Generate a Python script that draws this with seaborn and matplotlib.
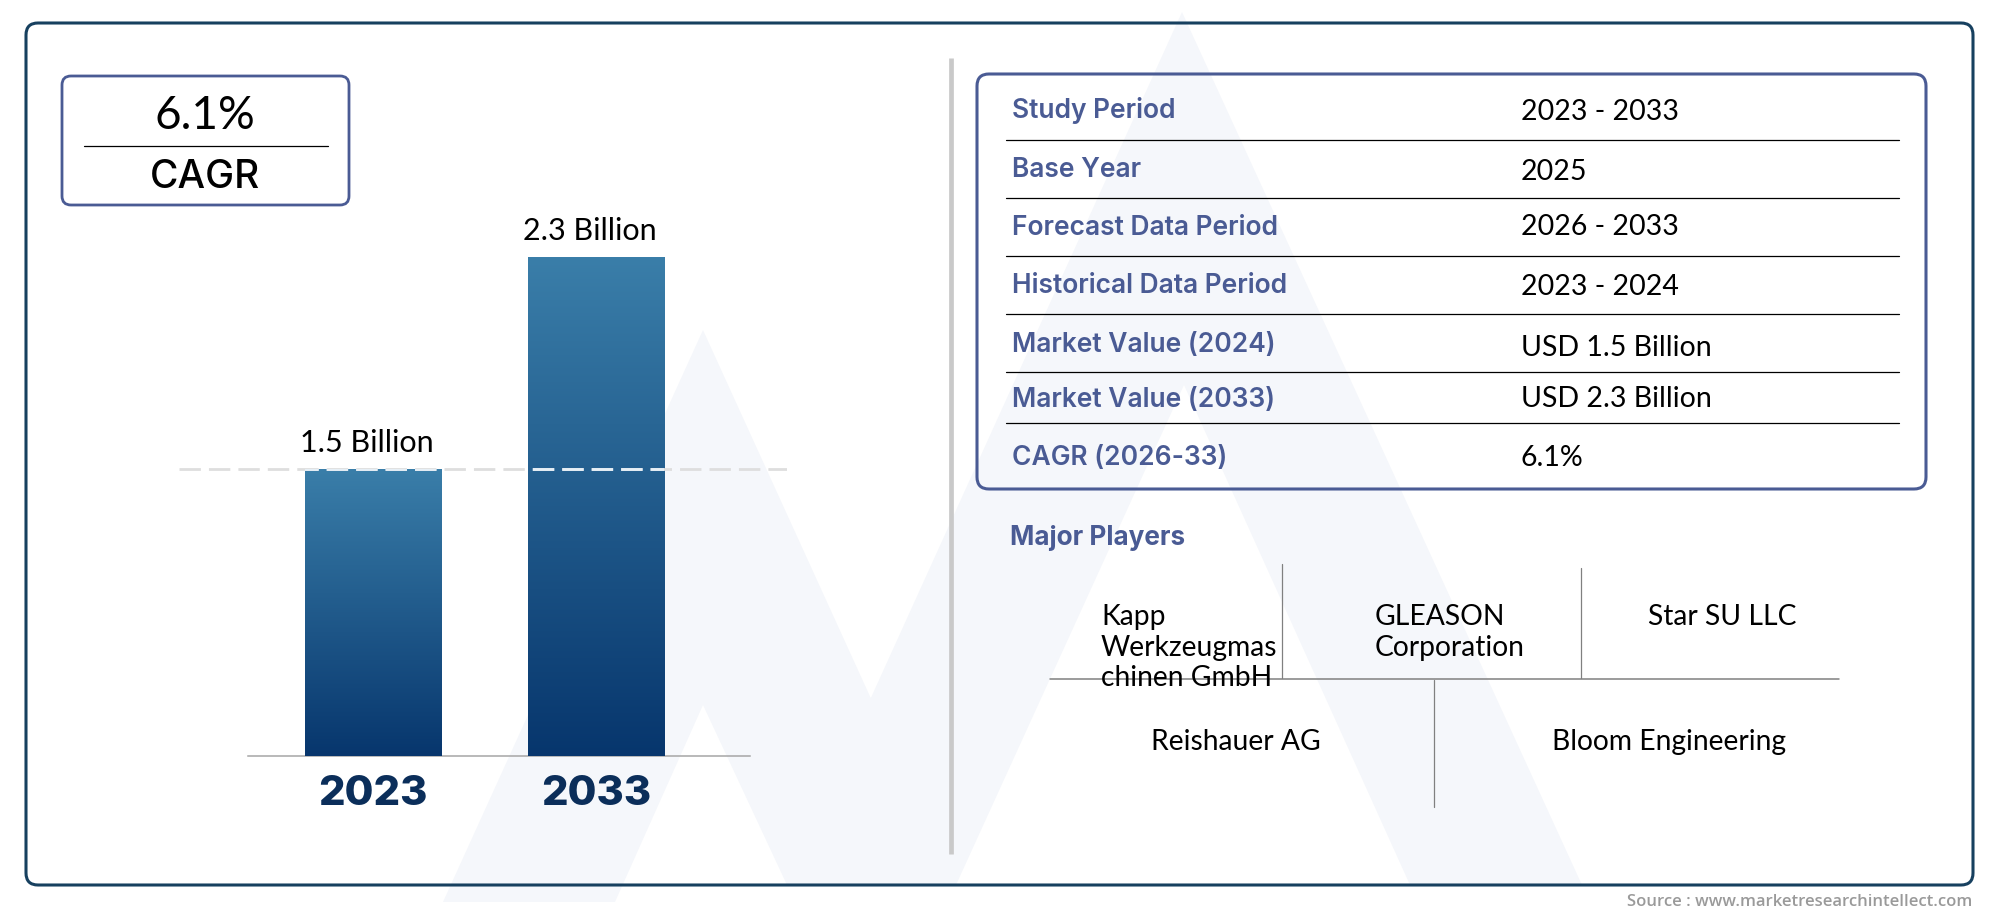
import numpy as np
import seaborn as sns
from matplotlib import pyplot as plt
from matplotlib.colors import LinearSegmentedColormap
from matplotlib.patches import FancyBboxPatch, Polygon

# chart values
years = ['2023', '2033']
market_values = [1.5, 2.3]
value_labels = ['1.5 Billion', '2.3 Billion']
cagr_text = '6.1%'
cagr_label = 'CAGR'

# table text
table_labels = ['Study Period', 'Base Year', 'Forecast Data Period', 'Historical Data Period',
                'Market Value (2024)', 'Market Value (2033)', 'CAGR (2026-33)']
table_values = ['2023 - 2033', '2025', '2026 - 2033', '2023 - 2024',
                'USD 1.5 Billion', 'USD 2.3 Billion', '6.1%']
label_rows = [110, 170, 228, 286, 345, 400, 458]
value_rows = [112, 172, 227, 287, 348, 399, 458]
table_lines = [140, 198, 256, 314, 372, 423]

players_title = 'Major Players'
source_text = 'Source : www.marketresearchintellect.com'

LABEL_FONT = 'Inter'
VALUE_FONT = 'Lato'
BLUE = '#4a5b94'
NAVY = '#0b2e5a'
WATERMARK = '#f5f7fb'

W, H = 2000, 917


def rounded_box(ax, x0, y0, x1, y1, color, lw, rad):
    ax.add_patch(FancyBboxPatch((x0 + rad, y0 + rad), x1 - x0 - 2 * rad, y1 - y0 - 2 * rad,
                                boxstyle='round,pad=%d,rounding_size=%d' % (rad, rad),
                                fc='none', ec=color, lw=lw))


sns.set_theme(style='white')
plt.rcParams['font.family'] = [VALUE_FONT, 'DejaVu Sans']

fig = plt.figure(figsize=(W / 100, H / 100), dpi=100, facecolor='white')

# background layer in pixel units
bg = fig.add_axes([0, 0, 1, 1])
bg.set_xlim(0, W)
bg.set_ylim(H, 0)
bg.axis('off')

# watermark logo
bg.add_patch(Polygon([(703, 330), (443, 902), (615, 902), (703, 705), (787, 885), (956, 885)],
                     fc=WATERMARK, ec='none'))
bg.add_patch(Polygon([(1182, 12), (786, 885), (956, 885), (1184, 385), (1410, 885), (1582, 885)],
                     fc=WATERMARK, ec='none'))

rounded_box(bg, 26, 23, 1973, 885, '#17405f', 2.2, 12)
rounded_box(bg, 62, 76, 349, 205, BLUE, 2.0, 9)
rounded_box(bg, 977, 74, 1926, 489, BLUE, 2.2, 12)

# divider
bg.plot([951, 951], [58, 854], color='#c9c9c9', lw=3.4, solid_capstyle='butt')

# CAGR box
bg.plot([84, 328], [146, 146], color='black', lw=0.9)
bg.text(205, 116, cagr_text, fontsize=33, color='black', ha='center', va='center')
bg.text(205, 177, cagr_label, fontsize=28, color='black', ha='center', va='center',
        family=LABEL_FONT, weight='medium')

# table
for y in table_lines:
    bg.plot([1006, 1899], [y, y], color='black', lw=0.9)
for lab, val, y1, y2 in zip(table_labels, table_values, label_rows, value_rows):
    bg.text(1012, y1, lab, fontsize=19, color=BLUE, ha='left', va='center',
            family=LABEL_FONT, weight='semibold')
    bg.text(1521, y2, val, fontsize=20.5, color='black', ha='left', va='center')

# major players
bg.text(1010, 538, players_title, fontsize=18.8, color=BLUE, ha='left', va='center',
        family=LABEL_FONT, weight='bold')
bg.plot([1050, 1839], [679, 679], color='#808080', lw=1.1)
bg.plot([1282, 1282], [564, 678], color='#808080', lw=0.9)
bg.plot([1581, 1581], [568, 678], color='#808080', lw=0.9)
bg.plot([1434, 1434], [680, 807], color='#808080', lw=0.9)
for txt, x, y, ha in [('Kapp', 1101, 617, 'left'), ('Werkzeugmas', 1101, 648, 'left'),
                      ('chinen GmbH', 1101, 678, 'left'), ('GLEASON', 1375, 617, 'left'),
                      ('Corporation', 1375, 648, 'left'), ('Star SU LLC', 1722, 617, 'center'),
                      ('Reishauer AG', 1236, 742, 'center'), ('Bloom Engineering', 1669, 742, 'center')]:
    bg.text(x, y, txt, fontsize=20.3, color='black', ha=ha, va='center')

bg.text(1972, 902, source_text, fontsize=12, color='#9a9a9a', ha='right', va='center',
        family='Open Sans', weight='semibold')

# bar chart, y axis starts above zero like the original
ax = fig.add_axes([179 / W, (H - 756) / H, 608 / W, 526 / H])
ax.patch.set_visible(False)
sns.barplot(x=years, y=market_values, width=0.61, color='#1f5a8c', ax=ax)

cmap = LinearSegmentedColormap.from_list('bars', ['#07366d', '#3a7ea9'])
grad = np.linspace(1, 0, 256).reshape(-1, 1)
for bar, lab in zip(ax.patches, value_labels):
    x0, w, h = bar.get_x(), bar.get_width(), bar.get_height()
    ax.imshow(grad, cmap=cmap, aspect='auto', extent=(x0, x0 + w, 0.417, h), zorder=3)
    ax.annotate(lab, (x0 + w / 2, h), xytext=(-4.5, 18.5), textcoords='offset points',
                ha='center', va='center', fontsize=22, color='black')
ax.set_xlim(-0.87, 1.857)
ax.set_ylim(0.417, 2.402)

ax.axhline(market_values[0], color='#dedede', lw=2.0, dashes=(7.7, 2.9), zorder=4)
# same dashes look paler where they cross a bar
for bar in ax.patches:
    over = ax.axhline(market_values[0], color='#e6eff6', lw=2.0, dashes=(7.7, 2.9), zorder=5)
    over.set_clip_path(bar)

for s in ['top', 'left', 'right']:
    ax.spines[s].set_visible(False)
ax.spines['bottom'].set_bounds(-0.56, 1.69)
ax.spines['bottom'].set_color('#a6a6a6')
ax.spines['bottom'].set_linewidth(1.1)
ax.set_yticks([])
ax.set_xlabel('')
ax.tick_params(axis='x', length=0, pad=14)
for t in ax.get_xticklabels():
    t.set_fontsize(30)
    t.set_fontweight('heavy')
    t.set_fontfamily(LABEL_FONT)
    t.set_color(NAVY)

fig.savefig('out.png', dpi=100)
